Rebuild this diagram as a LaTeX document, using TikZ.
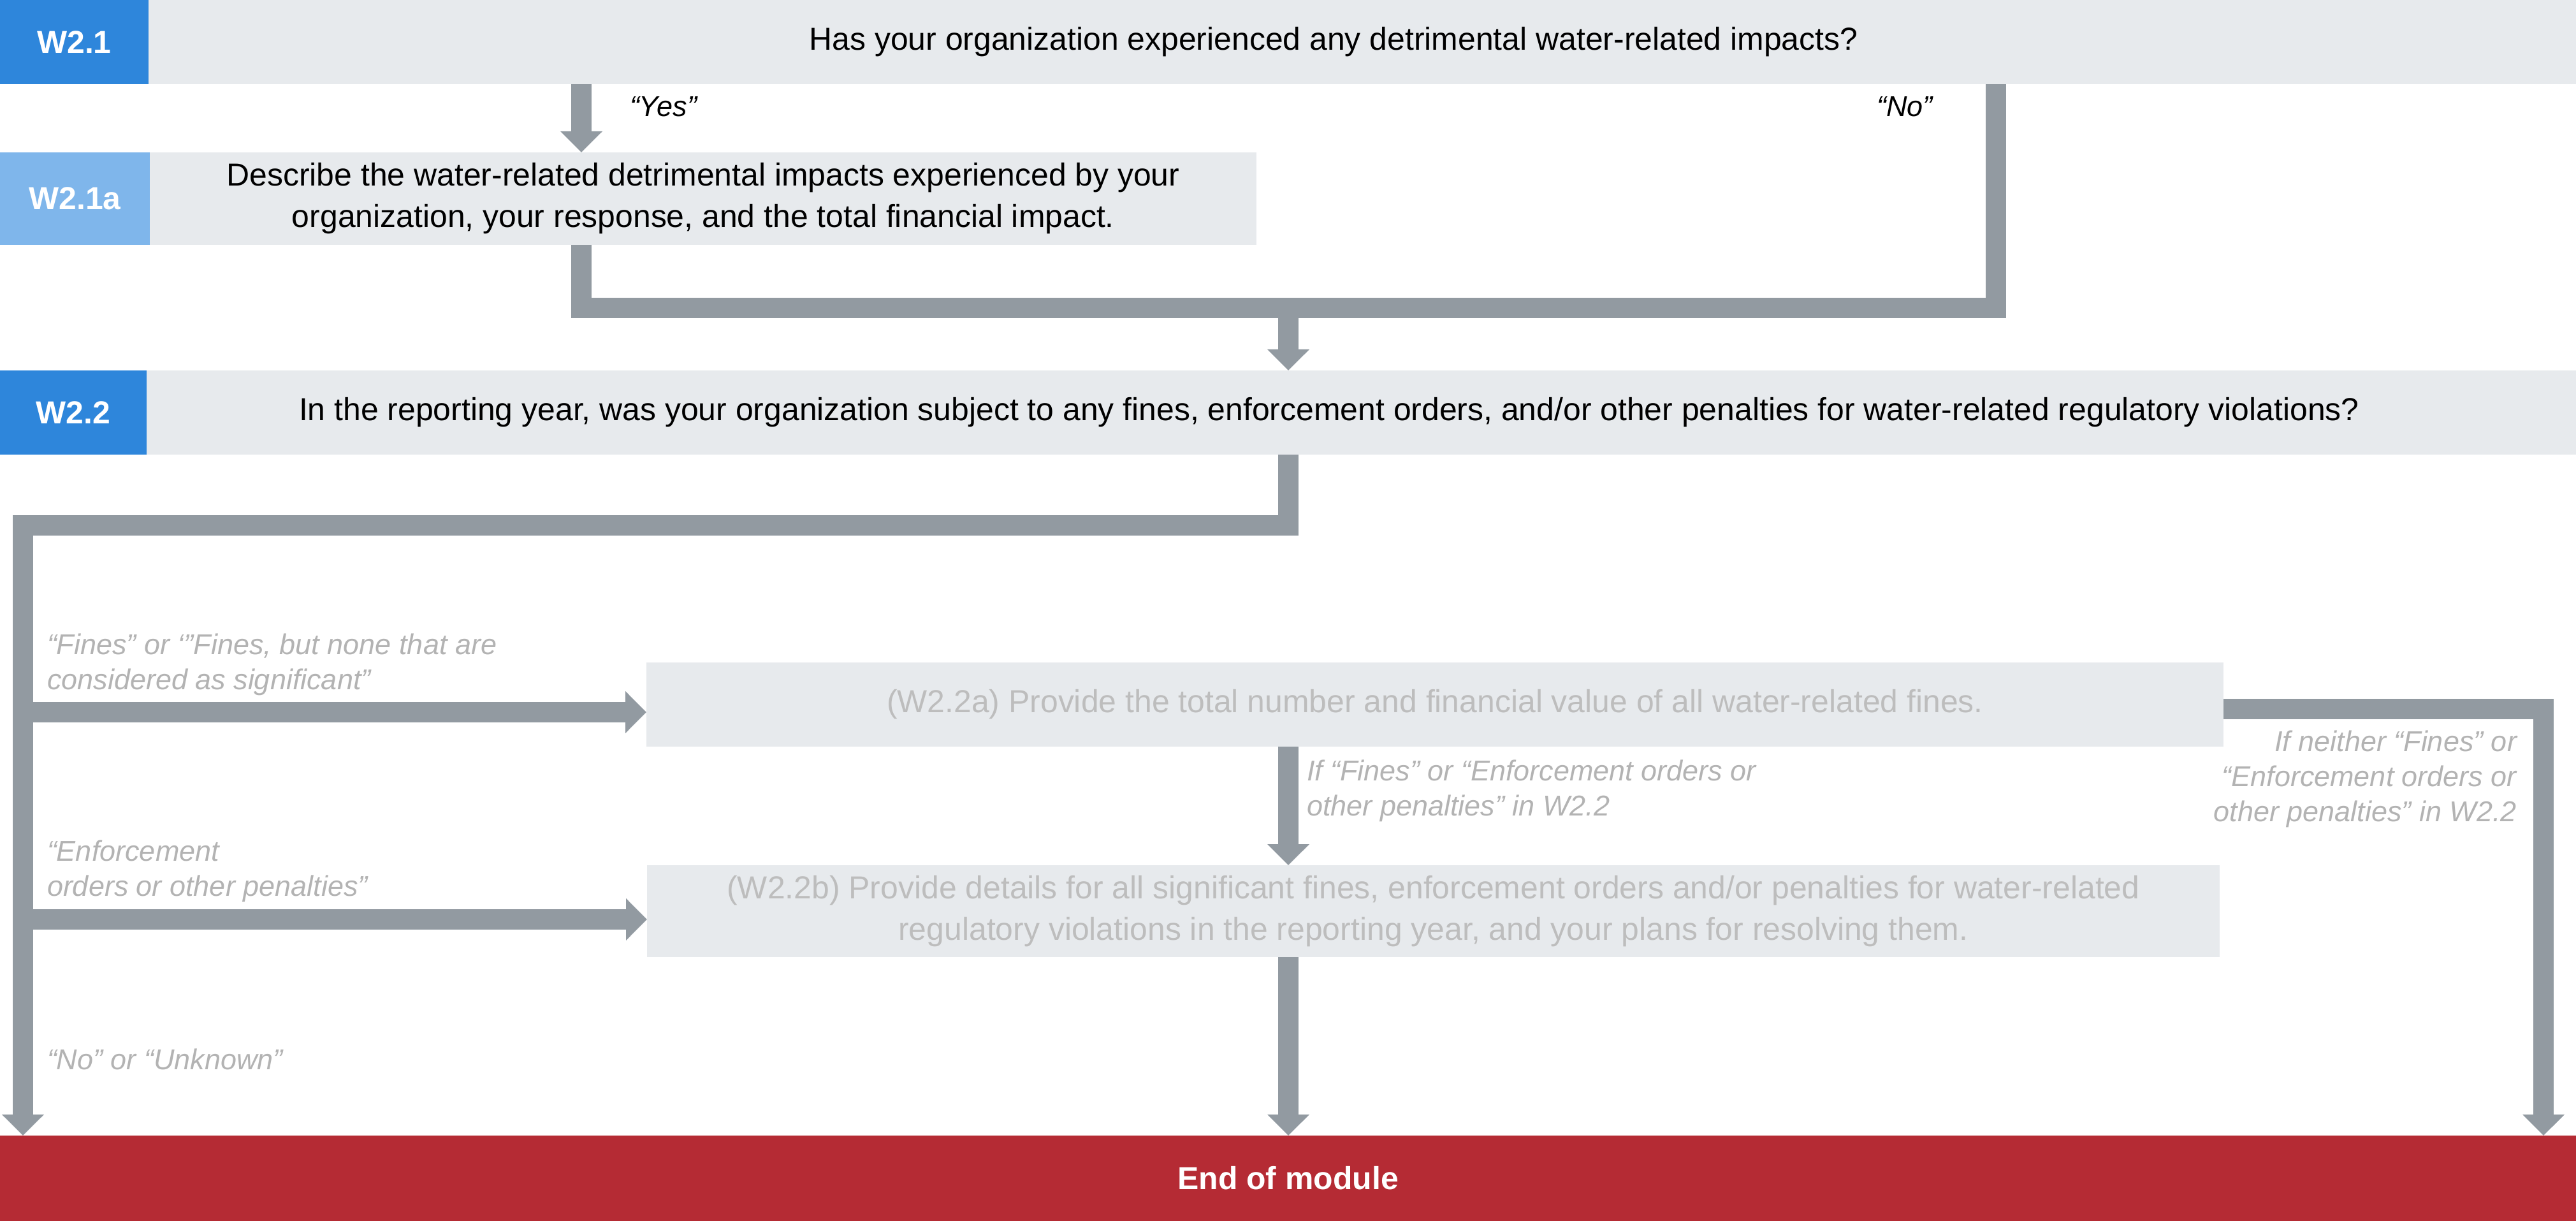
\documentclass[tikz,border=0pt]{standalone}
\usepackage{fontspec}
\setmainfont{Liberation Sans}
\usepackage{xcolor}
\usetikzlibrary{arrows.meta}

\definecolor{tagblue}{HTML}{2E86DB}
\definecolor{taglight}{HTML}{7FB6EB}
\definecolor{boxgrey}{HTML}{E7EAED}
\definecolor{linegrey}{HTML}{929AA1}
\definecolor{endred}{HTML}{B52B34}
\definecolor{fadetext}{HTML}{BDBDBD}
\definecolor{labelgrey}{HTML}{B3B3B3}

\newcommand{\mainfont}{\fontsize{14.2}{18.5}\selectfont}
\newcommand{\labelfont}{\fontsize{12.8}{15.7}\selectfont\itshape}

\begin{document}
\begin{tikzpicture}[
  y=-1cm,
  every node/.style={inner sep=0pt, outer sep=0pt},
  qbox/.style={fill=boxgrey, anchor=north west, align=center, font=\mainfont},
  qtag/.style={fill=tagblue, anchor=north west, text=white, font=\mainfont\bfseries},
  fadebox/.style={qbox, text=fadetext},
  qlabel/.style={align=left, font=\labelfont, text=labelgrey},
  conn/.style={draw=linegrey, line width=0.32cm, line join=miter},
  arr/.style={conn, -{Triangle[width=0.64cm, length=0.33cm]}, color=linegrey}
]
\useasboundingbox (0,0) rectangle (40.41,19.15);

% question boxes
\node[qtag, minimum width=2.33cm, minimum height=1.32cm] (q1tag) at (0,0) {W2.1};
\node[qbox, minimum width=38.08cm, minimum height=1.32cm] (q1) at (2.33,0) {};
\node[font=\mainfont] (q1text) at (20.92,0.66)
  {Has your organization experienced any detrimental water-related impacts?};

\node[qtag, fill=taglight, minimum width=2.35cm, minimum height=1.45cm] (q1atag) at (0,2.39) {W2.1a};
\node[qbox, minimum width=17.36cm, minimum height=1.45cm] (q1a) at (2.35,2.39)
  {Describe the water-related detrimental impacts experienced by your\\
   organization, your response, and the total financial impact.};

\node[qtag, minimum width=2.30cm, minimum height=1.32cm] (q2tag) at (0,5.81) {W2.2};
\node[qbox, minimum width=38.11cm, minimum height=1.32cm] (q2) at (2.30,5.81) {};
\node[font=\mainfont] (q2text) at (20.85,6.47)
  {In the reporting year, was your organization subject to any fines, enforcement orders, and/or other penalties for water-related regulatory violations?};

\node[fadebox, minimum width=24.74cm, minimum height=1.32cm] (q2a) at (10.14,10.39)
  {(W2.2a) Provide the total number and financial value of all water-related fines.};
\node[fadebox, minimum width=24.67cm, minimum height=1.44cm] (q2b) at (10.15,13.57)
  {(W2.2b) Provide details for all significant fines, enforcement orders and/or penalties for water-related\\
   regulatory violations in the reporting year, and your plans for resolving them.};

\node[fill=endred, anchor=north west, text=white, font=\mainfont\bfseries,
      minimum width=40.41cm, minimum height=1.34cm] (endbar) at (0,17.81) {End of module};

% routing points
\coordinate (xyes) at (9.12,0);
\coordinate (xno) at (31.31,0);
\coordinate (merge) at (20.21,4.83);
\coordinate (split) at (0.36,8.24);
\coordinate (fines) at (0.36,11.17);
\coordinate (orders) at (0.36,14.42);
\coordinate (neither) at (39.90,11.12);

% connectors
\draw[arr] (q1.south -| xyes) -- (q1a.north -| xyes);
\draw[conn] (q1a.south -| xyes) |- (merge -| xno) -- (q1.south -| xno);
\draw[arr] (merge) -- (q2.north -| merge);
\draw[arr] (q2.south -| merge) |- (split) -- (endbar.north -| split);
\draw[arr] (fines) -- (fines -| q2a.west);
\draw[arr] (orders) -- (orders -| q2b.west);
\draw[arr] (q2a.south -| merge) -- (q2b.north -| merge);
\draw[arr] (q2b.south -| merge) -- (endbar.north -| merge);
\draw[arr] (q2a.east |- neither) -| (endbar.north -| neither);

% labels
\node[qlabel, text=black, anchor=west] (yes) at (9.88,1.67) {“Yes”};
\node[qlabel, text=black, anchor=west] (no) at (29.44,1.67) {“No”};
\node[qlabel, anchor=west] (finesl) at (0.74,10.42)
  {“Fines” or ‘”Fines, but none that are\\ considered as significant”};
\node[qlabel, anchor=west] (ordersl) at (0.74,13.665)
  {“Enforcement\\ orders or other penalties”};
\node[qlabel, anchor=west] (nol) at (0.74,16.61) {“No” or “Unknown”};
\node[qlabel, anchor=west] (ifl) at (20.50,12.40)
  {If “Fines” or “Enforcement orders or\\ other penalties” in W2.2};
\node[qlabel, align=right, anchor=east] (neitherl) at (39.48,12.22)
  {If neither “Fines” or\\ “Enforcement orders or\\ other penalties” in W2.2};
\end{tikzpicture}
\end{document}
